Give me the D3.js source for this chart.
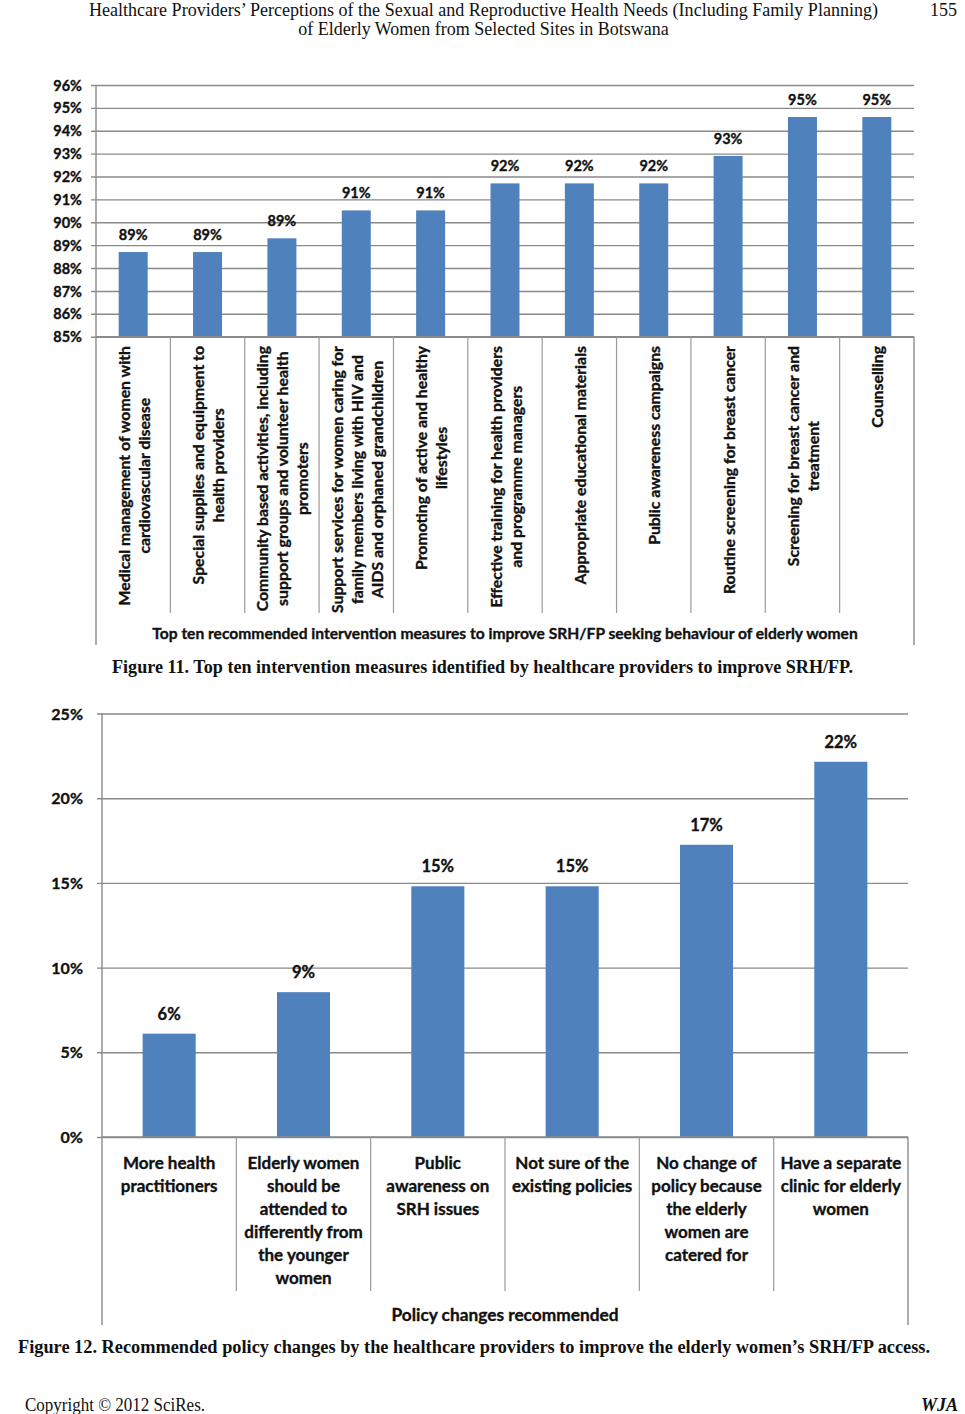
<!DOCTYPE html>
<html><head><meta charset="utf-8">
<script src="https://cdn.jsdelivr.net/npm/d3@7"></script>
<style>body{margin:0;background:#fff}svg{display:block}</style>
</head><body>
<svg id="page" width="965" height="1414"></svg>
<script>
// ---------- data ----------
const measureLabels = [
  ["Medical management of women with", "cardiovascular disease"],
  ["Special supplies and equipment to", "health providers"],
  ["Community based activities, including", "support groups and volunteer health", "promoters"],
  ["Support services for women caring for", "family members living with HIV and", "AIDS and orphaned grandchildren"],
  ["Promoting of active and healthy", "lifestyles"],
  ["Effective training for health providers", "and programme managers"],
  ["Appropriate educational materials"],
  ["Public awareness campaigns"],
  ["Routine screening for breast cancer"],
  ["Screening for breast cancer and", "treatment"],
  ["Counselling"]
];
const measureValues = [88.7, 88.7, 89.3, 90.52, 90.52, 91.7, 91.7, 91.7, 92.9, 94.6, 94.6];
const measureTicks = [85, 86, 87, 88, 89, 90, 91, 92, 93, 94, 95, 96];
const measureTitle = "Top ten recommended intervention measures to improve SRH/FP seeking behaviour of elderly women";

const policyLabels = [
  ["More health", "practitioners"],
  ["Elderly women", "should be", "attended to", "differently from", "the younger", "women"],
  ["Public", "awareness on", "SRH issues"],
  ["Not sure of the", "existing policies"],
  ["No change of", "policy because", "the elderly", "women are", "catered for"],
  ["Have a separate", "clinic for elderly", "women"]
];
const policyValues = [6.1, 8.55, 14.8, 14.8, 17.25, 22.15];
const policyTicks = [0, 5, 10, 15, 20, 25];
const policyTitle = "Policy changes recommended";

const headerLines = [
  "Healthcare Providers\u2019 Perceptions of the Sexual and Reproductive Health Needs (Including Family Planning)",
  "of Elderly Women from Selected Sites in Botswana"
];
const pageNumber = "155";
const caption11 = "Figure 11. Top ten intervention measures identified by healthcare providers to improve SRH/FP.";
const caption12 = "Figure 12. Recommended policy changes by the healthcare providers to improve the elderly women\u2019s SRH/FP access.";
const copyright = "Copyright \u00A9 2012 SciRes.";
const journal = "WJA";

// ---------- drawing ----------
const svg = d3.select("#page");
svg.append("rect").attr("width", 965).attr("height", 1414).attr("fill", "#fff");
const BLUE = "#4F81BD", GRID = "#8a8a8a", SEP = "#9a9a9a", INK = "#111";
const SANS = "Lato, 'Open Sans', sans-serif";
const SERIF = "'Liberation Serif', 'DejaVu Serif', serif";

function boldSans(sel, size) {
  return sel.attr("font-family", SANS).attr("font-weight", "bold").attr("font-size", size)
    .attr("fill", INK).attr("stroke", INK).attr("stroke-width", 0.35);
}

function drawChart(o) {
  const g = svg.append("g");
  const x = d3.scaleBand().domain(d3.range(o.labels.length))
    .range([o.left, o.right]).paddingInner(o.pad).paddingOuter(o.pad / 2);
  const y = d3.scaleLinear().domain([o.ticks[0], o.ticks[o.ticks.length - 1]])
    .range([o.bottom, o.top]);

  const ax = g.append("g").attr("transform", `translate(${o.left},0)`)
    .call(d3.axisLeft(y).tickValues(o.ticks).tickFormat(d => d + "%")
      .tickSize(-(o.right - o.left)).tickPadding(0));
  ax.select(".domain").remove();
  ax.selectAll(".tick line").attr("stroke", GRID).attr("stroke-width", 1.4).attr("x1", -5);
  boldSans(ax.selectAll(".tick text"), o.tickFont)
    .attr("x", o.tickX - o.left).attr("dy", "0.35em");

  g.selectAll("rect.bar").data(o.values).join("rect").attr("class", "bar")
    .attr("x", (d, i) => x(i)).attr("width", x.bandwidth())
    .attr("y", d => y(d)).attr("height", d => o.bottom - y(d))
    .attr("fill", BLUE);

  boldSans(g.selectAll("text.val").data(o.values).join("text").attr("class", "val"), o.valFont)
    .attr("x", (d, i) => x(i) + x.bandwidth() / 2).attr("y", d => y(d) - o.valGap)
    .attr("text-anchor", "middle")
    .text(d => Math.round(d) + "%");

  const step = x.step();
  const line = (x1, y1, x2, y2, c, w) => g.append("line").attr("x1", x1).attr("y1", y1)
    .attr("x2", x2).attr("y2", y2).attr("stroke", c).attr("stroke-width", w);
  line(o.left, o.top, o.left, o.frameBottom, GRID, 1.4);
  line(o.right, o.bottom, o.right, o.frameBottom, GRID, 1.4);
  line(o.left, o.bottom, o.right, o.bottom, GRID, 1.4);
  for (let i = 1; i < o.labels.length; i++) {
    const xx = o.left + step * i;
    line(xx, o.bottom, xx, o.sepBottom, SEP, 1.2);
  }

  o.labels.forEach((lines, i) => {
    const cx = x(i) + x.bandwidth() / 2;
    if (o.rotated) {
      const texts = lines.map(t => boldSans(g.append("text").text(t), o.catFont)
        .attr("text-anchor", "middle").attr("dominant-baseline", "central"));
      const maxLen = d3.max(texts, t => t.node().getComputedTextLength());
      const cy = o.catTop + maxLen / 2;
      texts.forEach((t, k) => {
        const lx = cx + (k - (lines.length - 1) / 2) * o.catLine;
        t.attr("transform", `translate(${lx},${cy}) rotate(-90)`);
      });
    } else {
      lines.forEach((t, k) => {
        boldSans(g.append("text").text(t), o.catFont)
          .attr("x", cx).attr("y", o.catTop + k * o.catLine).attr("text-anchor", "middle");
      });
    }
  });

  boldSans(g.append("text").text(o.title), o.titleFont)
    .attr("x", (o.left + o.right) / 2).attr("y", o.titleY).attr("text-anchor", "middle");
}

drawChart({
  labels: measureLabels, values: measureValues, ticks: measureTicks, title: measureTitle,
  left: 96, right: 914, top: 85, bottom: 336.7, pad: 0.61,
  frameBottom: 645, sepBottom: 613, tickX: 82, tickFont: 14.5, valFont: 14.5, valGap: 12,
  rotated: true, catTop: 346, catLine: 20, catFont: 15.8, titleY: 639, titleFont: 15.6
});

drawChart({
  labels: policyLabels, values: policyValues, ticks: policyTicks, title: policyTitle,
  left: 102, right: 908, top: 713.5, bottom: 1137, pad: 0.605,
  frameBottom: 1325, sepBottom: 1291, tickX: 83, tickFont: 16, valFont: 16.5, valGap: 14,
  rotated: false, catTop: 1169, catLine: 23, catFont: 17, titleY: 1321, titleFont: 17.3
});

// page text
function serif(t, xx, yy, anchor, len, opts = {}) {
  const s = svg.append("text").text(t).attr("x", xx).attr("y", yy).attr("text-anchor", anchor)
    .attr("font-family", SERIF).attr("font-size", opts.size || 18).attr("fill", INK)
    .attr("font-weight", opts.bold ? "bold" : "normal")
    .attr("font-style", opts.italic ? "italic" : "normal");
  if (len) s.attr("textLength", len).attr("lengthAdjust", "spacingAndGlyphs");
  return s;
}
serif(headerLines[0], 483.5, 16, "middle", 789);
serif(headerLines[1], 483.5, 35, "middle", null);
serif(pageNumber, 957, 16, "end", null);
serif(caption11, 482.5, 673, "middle", 741, { bold: true });
serif(caption12, 474, 1353, "middle", 912, { bold: true });
serif(copyright, 25, 1411, "start", 180);
serif(journal, 958, 1411, "end", null, { bold: true, italic: true });
</script>
</body></html>
